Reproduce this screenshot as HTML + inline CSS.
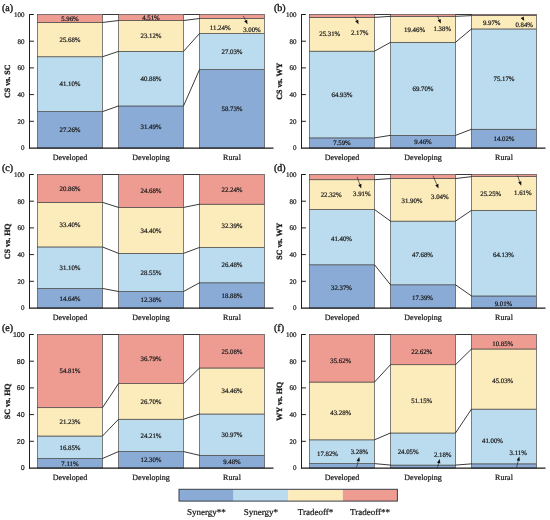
<!DOCTYPE html>
<html><head><meta charset="utf-8"><style>
html,body{margin:0;padding:0;background:#fff;}
svg{display:block;}
text{font-family:"Liberation Serif",serif;fill:#1a1a1a;stroke:#1a1a1a;stroke-width:0.22px;text-rendering:geometricPrecision;}
.pl{font-size:6.8px;text-anchor:middle;}
.tk{font-size:7px;text-anchor:end;}
.sans{font-family:"Liberation Sans",sans-serif;}
.xl{font-size:8px;text-anchor:middle;}
.pn{font-size:10px;stroke-width:0.4px;}
.yl{font-size:8px;font-weight:bold;text-anchor:middle;stroke-width:0.3px;}
.lg{font-size:9px;text-anchor:middle;}
.ax{stroke:#222;stroke-width:0.7;}
</style></head><body>
<svg width="550" height="520" viewBox="0 0 550 520">
<rect x="37.5" y="111.61" width="65" height="36.39" fill="#89abd6" stroke="#4a4a4a" stroke-width="0.7"/>
<rect x="37.5" y="56.74" width="65" height="54.87" fill="#bbdbee" stroke="#4a4a4a" stroke-width="0.7"/>
<rect x="37.5" y="22.46" width="65" height="34.28" fill="#fdecbb" stroke="#4a4a4a" stroke-width="0.7"/>
<rect x="37.5" y="14.5" width="65" height="7.96" fill="#ee9c92" stroke="#4a4a4a" stroke-width="0.7"/>
<rect x="118.5" y="105.96" width="65" height="42.04" fill="#89abd6" stroke="#4a4a4a" stroke-width="0.7"/>
<rect x="118.5" y="51.39" width="65" height="54.57" fill="#bbdbee" stroke="#4a4a4a" stroke-width="0.7"/>
<rect x="118.5" y="20.52" width="65" height="30.87" fill="#fdecbb" stroke="#4a4a4a" stroke-width="0.7"/>
<rect x="118.5" y="14.5" width="65" height="6.02" fill="#ee9c92" stroke="#4a4a4a" stroke-width="0.7"/>
<rect x="199.5" y="69.6" width="65" height="78.4" fill="#89abd6" stroke="#4a4a4a" stroke-width="0.7"/>
<rect x="199.5" y="33.51" width="65" height="36.09" fill="#bbdbee" stroke="#4a4a4a" stroke-width="0.7"/>
<rect x="199.5" y="18.51" width="65" height="15.01" fill="#fdecbb" stroke="#4a4a4a" stroke-width="0.7"/>
<rect x="199.5" y="14.5" width="65" height="4" fill="#ee9c92" stroke="#4a4a4a" stroke-width="0.7"/>
<line x1="102.5" y1="111.61" x2="118.5" y2="105.96" stroke="#222" stroke-width="0.9"/>
<line x1="102.5" y1="56.74" x2="118.5" y2="51.39" stroke="#222" stroke-width="0.9"/>
<line x1="102.5" y1="22.46" x2="118.5" y2="20.52" stroke="#222" stroke-width="0.9"/>
<line x1="102.5" y1="14.5" x2="118.5" y2="14.5" stroke="#222" stroke-width="0.9"/>
<line x1="183.5" y1="105.96" x2="199.5" y2="69.6" stroke="#222" stroke-width="0.9"/>
<line x1="183.5" y1="51.39" x2="199.5" y2="33.51" stroke="#222" stroke-width="0.9"/>
<line x1="183.5" y1="20.52" x2="199.5" y2="18.51" stroke="#222" stroke-width="0.9"/>
<line x1="183.5" y1="14.5" x2="199.5" y2="14.5" stroke="#222" stroke-width="0.9"/>
<text x="70" y="132.1" class="pl">27.26%</text>
<text x="70" y="86.47" class="pl">41.10%</text>
<text x="70" y="41.9" class="pl">25.68%</text>
<text x="70" y="20.78" class="pl">5.96%</text>
<text x="151" y="129.28" class="pl">31.49%</text>
<text x="151" y="80.97" class="pl">40.88%</text>
<text x="151" y="38.25" class="pl">23.12%</text>
<text x="151" y="19.81" class="pl">4.51%</text>
<text x="232" y="111.1" class="pl">58.73%</text>
<text x="232" y="53.85" class="pl">27.03%</text>
<text x="220.2" y="29.8" class="pl">11.24%</text>
<text x="252" y="31.8" class="pl">3.00%</text>
<line x1="29.5" y1="14.1" x2="29.5" y2="148.6" stroke="#1e1e1e" stroke-width="1"/>
<line x1="29.0" y1="148.2" x2="273.5" y2="148.2" stroke="#1a1a1a" stroke-width="1.2"/>
<text x="24.6" y="150.4" class="tk">0</text>
<line x1="29.5" y1="121.3" x2="33.9" y2="121.3" stroke="#1e1e1e" stroke-width="1"/>
<text x="24.6" y="123.7" class="tk">20</text>
<line x1="29.5" y1="94.6" x2="33.9" y2="94.6" stroke="#1e1e1e" stroke-width="1"/>
<text x="24.6" y="97" class="tk">40</text>
<line x1="29.5" y1="67.9" x2="33.9" y2="67.9" stroke="#1e1e1e" stroke-width="1"/>
<text x="24.6" y="70.3" class="tk">60</text>
<line x1="29.5" y1="41.2" x2="33.9" y2="41.2" stroke="#1e1e1e" stroke-width="1"/>
<text x="24.6" y="43.6" class="tk">80</text>
<line x1="29.5" y1="14.5" x2="33.9" y2="14.5" stroke="#1e1e1e" stroke-width="1"/>
<text x="24.6" y="16.9" class="tk">100</text>
<text x="70" y="159.6" class="xl">Developed</text>
<text x="151" y="159.6" class="xl">Developing</text>
<text x="232" y="159.6" class="xl">Rural</text>
<text x="2" y="10.8" class="pn">(a)</text>
<text transform="translate(10.2,81.3) rotate(-90)" class="yl">CS vs. SC</text>
<rect x="309.5" y="137.87" width="65" height="10.13" fill="#89abd6" stroke="#4a4a4a" stroke-width="0.7"/>
<rect x="309.5" y="51.19" width="65" height="86.68" fill="#bbdbee" stroke="#4a4a4a" stroke-width="0.7"/>
<rect x="309.5" y="17.4" width="65" height="33.79" fill="#fdecbb" stroke="#4a4a4a" stroke-width="0.7"/>
<rect x="309.5" y="14.5" width="65" height="2.9" fill="#ee9c92" stroke="#4a4a4a" stroke-width="0.7"/>
<rect x="390.5" y="135.37" width="65" height="12.63" fill="#89abd6" stroke="#4a4a4a" stroke-width="0.7"/>
<rect x="390.5" y="42.32" width="65" height="93.05" fill="#bbdbee" stroke="#4a4a4a" stroke-width="0.7"/>
<rect x="390.5" y="16.34" width="65" height="25.98" fill="#fdecbb" stroke="#4a4a4a" stroke-width="0.7"/>
<rect x="390.5" y="14.5" width="65" height="1.84" fill="#ee9c92" stroke="#4a4a4a" stroke-width="0.7"/>
<rect x="471.5" y="129.28" width="65" height="18.72" fill="#89abd6" stroke="#4a4a4a" stroke-width="0.7"/>
<rect x="471.5" y="28.93" width="65" height="100.35" fill="#bbdbee" stroke="#4a4a4a" stroke-width="0.7"/>
<rect x="471.5" y="15.62" width="65" height="13.31" fill="#fdecbb" stroke="#4a4a4a" stroke-width="0.7"/>
<rect x="471.5" y="14.5" width="65" height="1.12" fill="#ee9c92" stroke="#4a4a4a" stroke-width="0.7"/>
<line x1="374.5" y1="137.87" x2="390.5" y2="135.37" stroke="#222" stroke-width="0.9"/>
<line x1="374.5" y1="51.19" x2="390.5" y2="42.32" stroke="#222" stroke-width="0.9"/>
<line x1="374.5" y1="17.4" x2="390.5" y2="16.34" stroke="#222" stroke-width="0.9"/>
<line x1="374.5" y1="14.5" x2="390.5" y2="14.5" stroke="#222" stroke-width="0.9"/>
<line x1="455.5" y1="135.37" x2="471.5" y2="129.28" stroke="#222" stroke-width="0.9"/>
<line x1="455.5" y1="42.32" x2="471.5" y2="28.93" stroke="#222" stroke-width="0.9"/>
<line x1="455.5" y1="16.34" x2="471.5" y2="15.62" stroke="#222" stroke-width="0.9"/>
<line x1="455.5" y1="14.5" x2="471.5" y2="14.5" stroke="#222" stroke-width="0.9"/>
<text x="342" y="145.23" class="pl">7.59%</text>
<text x="342" y="96.83" class="pl">64.93%</text>
<text x="329.8" y="36.2" class="pl">25.31%</text>
<text x="359.7" y="34.5" class="pl">2.17%</text>
<text x="423" y="143.99" class="pl">9.46%</text>
<text x="423" y="91.15" class="pl">69.70%</text>
<text x="414.6" y="32.1" class="pl">19.46%</text>
<text x="442.3" y="31.4" class="pl">1.38%</text>
<text x="504" y="140.94" class="pl">14.02%</text>
<text x="504" y="81.41" class="pl">75.17%</text>
<text x="491.7" y="25.3" class="pl">9.97%</text>
<text x="524.2" y="26.9" class="pl">0.84%</text>
<line x1="301.5" y1="14.1" x2="301.5" y2="148.6" stroke="#1e1e1e" stroke-width="1"/>
<line x1="301.0" y1="148.2" x2="545.5" y2="148.2" stroke="#1a1a1a" stroke-width="1.2"/>
<text x="296.6" y="150.4" class="tk">0</text>
<line x1="301.5" y1="121.3" x2="305.9" y2="121.3" stroke="#1e1e1e" stroke-width="1"/>
<text x="296.6" y="123.7" class="tk">20</text>
<line x1="301.5" y1="94.6" x2="305.9" y2="94.6" stroke="#1e1e1e" stroke-width="1"/>
<text x="296.6" y="97" class="tk">40</text>
<line x1="301.5" y1="67.9" x2="305.9" y2="67.9" stroke="#1e1e1e" stroke-width="1"/>
<text x="296.6" y="70.3" class="tk">60</text>
<line x1="301.5" y1="41.2" x2="305.9" y2="41.2" stroke="#1e1e1e" stroke-width="1"/>
<text x="296.6" y="43.6" class="tk">80</text>
<line x1="301.5" y1="14.5" x2="305.9" y2="14.5" stroke="#1e1e1e" stroke-width="1"/>
<text x="296.6" y="16.9" class="tk">100</text>
<text x="342" y="159.6" class="xl">Developed</text>
<text x="423" y="159.6" class="xl">Developing</text>
<text x="504" y="159.6" class="xl">Rural</text>
<text x="274" y="10.8" class="pn">(b)</text>
<text transform="translate(282.2,81.3) rotate(-90)" class="yl">CS vs. WY</text>
<rect x="37.5" y="288.46" width="65" height="19.54" fill="#89abd6" stroke="#4a4a4a" stroke-width="0.7"/>
<rect x="37.5" y="246.94" width="65" height="41.52" fill="#bbdbee" stroke="#4a4a4a" stroke-width="0.7"/>
<rect x="37.5" y="202.35" width="65" height="44.59" fill="#fdecbb" stroke="#4a4a4a" stroke-width="0.7"/>
<rect x="37.5" y="174.5" width="65" height="27.85" fill="#ee9c92" stroke="#4a4a4a" stroke-width="0.7"/>
<rect x="118.5" y="291.47" width="65" height="16.53" fill="#89abd6" stroke="#4a4a4a" stroke-width="0.7"/>
<rect x="118.5" y="253.36" width="65" height="38.11" fill="#bbdbee" stroke="#4a4a4a" stroke-width="0.7"/>
<rect x="118.5" y="207.43" width="65" height="45.92" fill="#fdecbb" stroke="#4a4a4a" stroke-width="0.7"/>
<rect x="118.5" y="174.49" width="65" height="32.95" fill="#ee9c92" stroke="#4a4a4a" stroke-width="0.7"/>
<rect x="199.5" y="282.8" width="65" height="25.2" fill="#89abd6" stroke="#4a4a4a" stroke-width="0.7"/>
<rect x="199.5" y="247.44" width="65" height="35.35" fill="#bbdbee" stroke="#4a4a4a" stroke-width="0.7"/>
<rect x="199.5" y="204.2" width="65" height="43.24" fill="#fdecbb" stroke="#4a4a4a" stroke-width="0.7"/>
<rect x="199.5" y="174.51" width="65" height="29.69" fill="#ee9c92" stroke="#4a4a4a" stroke-width="0.7"/>
<line x1="102.5" y1="288.46" x2="118.5" y2="291.47" stroke="#222" stroke-width="0.9"/>
<line x1="102.5" y1="246.94" x2="118.5" y2="253.36" stroke="#222" stroke-width="0.9"/>
<line x1="102.5" y1="202.35" x2="118.5" y2="207.43" stroke="#222" stroke-width="0.9"/>
<line x1="102.5" y1="174.5" x2="118.5" y2="174.5" stroke="#222" stroke-width="0.9"/>
<line x1="183.5" y1="291.47" x2="199.5" y2="282.8" stroke="#222" stroke-width="0.9"/>
<line x1="183.5" y1="253.36" x2="199.5" y2="247.44" stroke="#222" stroke-width="0.9"/>
<line x1="183.5" y1="207.43" x2="199.5" y2="204.2" stroke="#222" stroke-width="0.9"/>
<line x1="183.5" y1="174.5" x2="199.5" y2="174.5" stroke="#222" stroke-width="0.9"/>
<text x="70" y="300.53" class="pl">14.64%</text>
<text x="70" y="270" class="pl">31.10%</text>
<text x="70" y="226.94" class="pl">33.40%</text>
<text x="70" y="190.72" class="pl">20.86%</text>
<text x="151" y="302.04" class="pl">12.38%</text>
<text x="151" y="274.72" class="pl">28.55%</text>
<text x="151" y="232.7" class="pl">34.40%</text>
<text x="151" y="193.26" class="pl">24.68%</text>
<text x="232" y="297.7" class="pl">18.88%</text>
<text x="232" y="267.42" class="pl">26.48%</text>
<text x="232" y="228.12" class="pl">32.39%</text>
<text x="232" y="191.66" class="pl">22.24%</text>
<line x1="29.5" y1="174.1" x2="29.5" y2="308.6" stroke="#1e1e1e" stroke-width="1"/>
<line x1="29.0" y1="308.2" x2="273.5" y2="308.2" stroke="#1a1a1a" stroke-width="1.2"/>
<text x="24.6" y="310.4" class="tk">0</text>
<line x1="29.5" y1="281.3" x2="33.9" y2="281.3" stroke="#1e1e1e" stroke-width="1"/>
<text x="24.6" y="283.7" class="tk">20</text>
<line x1="29.5" y1="254.6" x2="33.9" y2="254.6" stroke="#1e1e1e" stroke-width="1"/>
<text x="24.6" y="257" class="tk">40</text>
<line x1="29.5" y1="227.9" x2="33.9" y2="227.9" stroke="#1e1e1e" stroke-width="1"/>
<text x="24.6" y="230.3" class="tk">60</text>
<line x1="29.5" y1="201.2" x2="33.9" y2="201.2" stroke="#1e1e1e" stroke-width="1"/>
<text x="24.6" y="203.6" class="tk">80</text>
<line x1="29.5" y1="174.5" x2="33.9" y2="174.5" stroke="#1e1e1e" stroke-width="1"/>
<text x="24.6" y="176.9" class="tk">100</text>
<text x="70" y="319.6" class="xl">Developed</text>
<text x="151" y="319.6" class="xl">Developing</text>
<text x="232" y="319.6" class="xl">Rural</text>
<text x="2" y="170.8" class="pn">(c)</text>
<text transform="translate(10.2,241.3) rotate(-90)" class="yl">CS vs. HQ</text>
<rect x="309.5" y="264.79" width="65" height="43.21" fill="#89abd6" stroke="#4a4a4a" stroke-width="0.7"/>
<rect x="309.5" y="209.52" width="65" height="55.27" fill="#bbdbee" stroke="#4a4a4a" stroke-width="0.7"/>
<rect x="309.5" y="179.72" width="65" height="29.8" fill="#fdecbb" stroke="#4a4a4a" stroke-width="0.7"/>
<rect x="309.5" y="174.5" width="65" height="5.22" fill="#ee9c92" stroke="#4a4a4a" stroke-width="0.7"/>
<rect x="390.5" y="284.78" width="65" height="23.22" fill="#89abd6" stroke="#4a4a4a" stroke-width="0.7"/>
<rect x="390.5" y="221.13" width="65" height="63.65" fill="#bbdbee" stroke="#4a4a4a" stroke-width="0.7"/>
<rect x="390.5" y="178.55" width="65" height="42.59" fill="#fdecbb" stroke="#4a4a4a" stroke-width="0.7"/>
<rect x="390.5" y="174.49" width="65" height="4.06" fill="#ee9c92" stroke="#4a4a4a" stroke-width="0.7"/>
<rect x="471.5" y="295.97" width="65" height="12.03" fill="#89abd6" stroke="#4a4a4a" stroke-width="0.7"/>
<rect x="471.5" y="210.36" width="65" height="85.61" fill="#bbdbee" stroke="#4a4a4a" stroke-width="0.7"/>
<rect x="471.5" y="176.65" width="65" height="33.71" fill="#fdecbb" stroke="#4a4a4a" stroke-width="0.7"/>
<rect x="471.5" y="174.5" width="65" height="2.15" fill="#ee9c92" stroke="#4a4a4a" stroke-width="0.7"/>
<line x1="374.5" y1="264.79" x2="390.5" y2="284.78" stroke="#222" stroke-width="0.9"/>
<line x1="374.5" y1="209.52" x2="390.5" y2="221.13" stroke="#222" stroke-width="0.9"/>
<line x1="374.5" y1="179.72" x2="390.5" y2="178.55" stroke="#222" stroke-width="0.9"/>
<line x1="374.5" y1="174.5" x2="390.5" y2="174.5" stroke="#222" stroke-width="0.9"/>
<line x1="455.5" y1="284.78" x2="471.5" y2="295.97" stroke="#222" stroke-width="0.9"/>
<line x1="455.5" y1="221.13" x2="471.5" y2="210.36" stroke="#222" stroke-width="0.9"/>
<line x1="455.5" y1="178.55" x2="471.5" y2="176.65" stroke="#222" stroke-width="0.9"/>
<line x1="455.5" y1="174.5" x2="471.5" y2="174.5" stroke="#222" stroke-width="0.9"/>
<text x="341.5" y="289.99" class="pl">32.37%</text>
<text x="341.5" y="240.75" class="pl">41.40%</text>
<text x="331.2" y="196.9" class="pl">22.32%</text>
<text x="361.9" y="195.9" class="pl">3.91%</text>
<text x="422.5" y="299.99" class="pl">17.39%</text>
<text x="422.5" y="256.56" class="pl">47.68%</text>
<text x="412" y="202.5" class="pl">31.90%</text>
<text x="439.9" y="198.6" class="pl">3.04%</text>
<text x="503.5" y="305.59" class="pl">9.01%</text>
<text x="503.5" y="256.76" class="pl">64.13%</text>
<text x="490.8" y="195.8" class="pl">25.25%</text>
<text x="522.9" y="194.8" class="pl">1.61%</text>
<line x1="301.5" y1="174.1" x2="301.5" y2="308.6" stroke="#1e1e1e" stroke-width="1"/>
<line x1="301.0" y1="308.2" x2="545.5" y2="308.2" stroke="#1a1a1a" stroke-width="1.2"/>
<text x="296.6" y="310.4" class="tk">0</text>
<line x1="301.5" y1="281.3" x2="305.9" y2="281.3" stroke="#1e1e1e" stroke-width="1"/>
<text x="296.6" y="283.7" class="tk">20</text>
<line x1="301.5" y1="254.6" x2="305.9" y2="254.6" stroke="#1e1e1e" stroke-width="1"/>
<text x="296.6" y="257" class="tk">40</text>
<line x1="301.5" y1="227.9" x2="305.9" y2="227.9" stroke="#1e1e1e" stroke-width="1"/>
<text x="296.6" y="230.3" class="tk">60</text>
<line x1="301.5" y1="201.2" x2="305.9" y2="201.2" stroke="#1e1e1e" stroke-width="1"/>
<text x="296.6" y="203.6" class="tk">80</text>
<line x1="301.5" y1="174.5" x2="305.9" y2="174.5" stroke="#1e1e1e" stroke-width="1"/>
<text x="296.6" y="176.9" class="tk">100</text>
<text x="342" y="319.6" class="xl">Developed</text>
<text x="423" y="319.6" class="xl">Developing</text>
<text x="504" y="319.6" class="xl">Rural</text>
<text x="274" y="170.8" class="pn">(d)</text>
<text transform="translate(282.2,241.3) rotate(-90)" class="yl">SC vs. WY</text>
<rect x="37.5" y="458.51" width="65" height="9.49" fill="#89abd6" stroke="#4a4a4a" stroke-width="0.7"/>
<rect x="37.5" y="436.01" width="65" height="22.49" fill="#bbdbee" stroke="#4a4a4a" stroke-width="0.7"/>
<rect x="37.5" y="407.67" width="65" height="28.34" fill="#fdecbb" stroke="#4a4a4a" stroke-width="0.7"/>
<rect x="37.5" y="334.5" width="65" height="73.17" fill="#ee9c92" stroke="#4a4a4a" stroke-width="0.7"/>
<rect x="118.5" y="451.58" width="65" height="16.42" fill="#89abd6" stroke="#4a4a4a" stroke-width="0.7"/>
<rect x="118.5" y="419.26" width="65" height="32.32" fill="#bbdbee" stroke="#4a4a4a" stroke-width="0.7"/>
<rect x="118.5" y="383.61" width="65" height="35.64" fill="#fdecbb" stroke="#4a4a4a" stroke-width="0.7"/>
<rect x="118.5" y="334.5" width="65" height="49.11" fill="#ee9c92" stroke="#4a4a4a" stroke-width="0.7"/>
<rect x="199.5" y="455.34" width="65" height="12.66" fill="#89abd6" stroke="#4a4a4a" stroke-width="0.7"/>
<rect x="199.5" y="414" width="65" height="41.34" fill="#bbdbee" stroke="#4a4a4a" stroke-width="0.7"/>
<rect x="199.5" y="368" width="65" height="46" fill="#fdecbb" stroke="#4a4a4a" stroke-width="0.7"/>
<rect x="199.5" y="334.51" width="65" height="33.48" fill="#ee9c92" stroke="#4a4a4a" stroke-width="0.7"/>
<line x1="102.5" y1="458.51" x2="118.5" y2="451.58" stroke="#222" stroke-width="0.9"/>
<line x1="102.5" y1="436.01" x2="118.5" y2="419.26" stroke="#222" stroke-width="0.9"/>
<line x1="102.5" y1="407.67" x2="118.5" y2="383.61" stroke="#222" stroke-width="0.9"/>
<line x1="102.5" y1="334.5" x2="118.5" y2="334.5" stroke="#222" stroke-width="0.9"/>
<line x1="183.5" y1="451.58" x2="199.5" y2="455.34" stroke="#222" stroke-width="0.9"/>
<line x1="183.5" y1="419.26" x2="199.5" y2="414" stroke="#222" stroke-width="0.9"/>
<line x1="183.5" y1="383.61" x2="199.5" y2="368" stroke="#222" stroke-width="0.9"/>
<line x1="183.5" y1="334.5" x2="199.5" y2="334.5" stroke="#222" stroke-width="0.9"/>
<text x="70" y="465.55" class="pl">7.11%</text>
<text x="70" y="449.56" class="pl">16.85%</text>
<text x="70" y="424.14" class="pl">21.23%</text>
<text x="70" y="373.39" class="pl">54.81%</text>
<text x="151" y="462.09" class="pl">12.30%</text>
<text x="151" y="437.72" class="pl">24.21%</text>
<text x="151" y="403.74" class="pl">26.70%</text>
<text x="151" y="361.36" class="pl">36.79%</text>
<text x="232" y="463.97" class="pl">9.48%</text>
<text x="232" y="436.97" class="pl">30.97%</text>
<text x="232" y="393.3" class="pl">34.46%</text>
<text x="232" y="353.55" class="pl">25.08%</text>
<line x1="29.5" y1="334.1" x2="29.5" y2="468.6" stroke="#1e1e1e" stroke-width="1"/>
<line x1="29.0" y1="468.2" x2="273.5" y2="468.2" stroke="#1a1a1a" stroke-width="1.2"/>
<text x="24.6" y="470.4" class="tk sans">0</text>
<line x1="29.5" y1="441.3" x2="33.9" y2="441.3" stroke="#1e1e1e" stroke-width="1"/>
<text x="24.6" y="443.7" class="tk sans">20</text>
<line x1="29.5" y1="414.6" x2="33.9" y2="414.6" stroke="#1e1e1e" stroke-width="1"/>
<text x="24.6" y="417" class="tk sans">40</text>
<line x1="29.5" y1="387.9" x2="33.9" y2="387.9" stroke="#1e1e1e" stroke-width="1"/>
<text x="24.6" y="390.3" class="tk sans">60</text>
<line x1="29.5" y1="361.2" x2="33.9" y2="361.2" stroke="#1e1e1e" stroke-width="1"/>
<text x="24.6" y="363.6" class="tk sans">80</text>
<line x1="29.5" y1="334.5" x2="33.9" y2="334.5" stroke="#1e1e1e" stroke-width="1"/>
<text x="24.6" y="336.9" class="tk sans">100</text>
<text x="70" y="479.6" class="xl">Developed</text>
<text x="151" y="479.6" class="xl">Developing</text>
<text x="232" y="479.6" class="xl">Rural</text>
<text x="2" y="330.8" class="pn">(e)</text>
<text transform="translate(10.2,401.3) rotate(-90)" class="yl">SC vs. HQ</text>
<rect x="309.5" y="463.62" width="65" height="4.38" fill="#89abd6" stroke="#4a4a4a" stroke-width="0.7"/>
<rect x="309.5" y="439.83" width="65" height="23.79" fill="#bbdbee" stroke="#4a4a4a" stroke-width="0.7"/>
<rect x="309.5" y="382.05" width="65" height="57.78" fill="#fdecbb" stroke="#4a4a4a" stroke-width="0.7"/>
<rect x="309.5" y="334.5" width="65" height="47.55" fill="#ee9c92" stroke="#4a4a4a" stroke-width="0.7"/>
<rect x="390.5" y="465.09" width="65" height="2.91" fill="#89abd6" stroke="#4a4a4a" stroke-width="0.7"/>
<rect x="390.5" y="432.98" width="65" height="32.11" fill="#bbdbee" stroke="#4a4a4a" stroke-width="0.7"/>
<rect x="390.5" y="364.7" width="65" height="68.29" fill="#fdecbb" stroke="#4a4a4a" stroke-width="0.7"/>
<rect x="390.5" y="334.5" width="65" height="30.2" fill="#ee9c92" stroke="#4a4a4a" stroke-width="0.7"/>
<rect x="471.5" y="463.85" width="65" height="4.15" fill="#89abd6" stroke="#4a4a4a" stroke-width="0.7"/>
<rect x="471.5" y="409.11" width="65" height="54.73" fill="#bbdbee" stroke="#4a4a4a" stroke-width="0.7"/>
<rect x="471.5" y="349" width="65" height="60.12" fill="#fdecbb" stroke="#4a4a4a" stroke-width="0.7"/>
<rect x="471.5" y="334.51" width="65" height="14.48" fill="#ee9c92" stroke="#4a4a4a" stroke-width="0.7"/>
<line x1="374.5" y1="463.62" x2="390.5" y2="465.09" stroke="#222" stroke-width="0.9"/>
<line x1="374.5" y1="439.83" x2="390.5" y2="432.98" stroke="#222" stroke-width="0.9"/>
<line x1="374.5" y1="382.05" x2="390.5" y2="364.7" stroke="#222" stroke-width="0.9"/>
<line x1="374.5" y1="334.5" x2="390.5" y2="334.5" stroke="#222" stroke-width="0.9"/>
<line x1="455.5" y1="465.09" x2="471.5" y2="463.85" stroke="#222" stroke-width="0.9"/>
<line x1="455.5" y1="432.98" x2="471.5" y2="409.11" stroke="#222" stroke-width="0.9"/>
<line x1="455.5" y1="364.7" x2="471.5" y2="349" stroke="#222" stroke-width="0.9"/>
<line x1="455.5" y1="334.5" x2="471.5" y2="334.5" stroke="#222" stroke-width="0.9"/>
<text x="359.5" y="453.9" class="pl">3.28%</text>
<text x="327.5" y="455.9" class="pl">17.82%</text>
<text x="340.8" y="415.24" class="pl">43.28%</text>
<text x="340.8" y="362.58" class="pl">35.62%</text>
<text x="442.7" y="456.6" class="pl">2.18%</text>
<text x="408.2" y="453.9" class="pl">24.05%</text>
<text x="421.8" y="403.14" class="pl">51.15%</text>
<text x="421.8" y="353.9" class="pl">22.62%</text>
<text x="518.2" y="454.6" class="pl">3.11%</text>
<text x="492.5" y="442.8" class="pl">41.00%</text>
<text x="502.8" y="383.36" class="pl">45.03%</text>
<text x="502.8" y="346.06" class="pl">10.85%</text>
<line x1="301.5" y1="334.1" x2="301.5" y2="468.6" stroke="#1e1e1e" stroke-width="1"/>
<line x1="301.0" y1="468.2" x2="545.5" y2="468.2" stroke="#1a1a1a" stroke-width="1.2"/>
<text x="296.6" y="470.4" class="tk">0</text>
<line x1="301.5" y1="441.3" x2="305.9" y2="441.3" stroke="#1e1e1e" stroke-width="1"/>
<text x="296.6" y="443.7" class="tk">20</text>
<line x1="301.5" y1="414.6" x2="305.9" y2="414.6" stroke="#1e1e1e" stroke-width="1"/>
<text x="296.6" y="417" class="tk">40</text>
<line x1="301.5" y1="387.9" x2="305.9" y2="387.9" stroke="#1e1e1e" stroke-width="1"/>
<text x="296.6" y="390.3" class="tk">60</text>
<line x1="301.5" y1="361.2" x2="305.9" y2="361.2" stroke="#1e1e1e" stroke-width="1"/>
<text x="296.6" y="363.6" class="tk">80</text>
<line x1="301.5" y1="334.5" x2="305.9" y2="334.5" stroke="#1e1e1e" stroke-width="1"/>
<text x="296.6" y="336.9" class="tk">100</text>
<text x="342" y="479.6" class="xl">Developed</text>
<text x="423" y="479.6" class="xl">Developing</text>
<text x="504" y="479.6" class="xl">Rural</text>
<text x="274" y="330.8" class="pn">(f)</text>
<text transform="translate(282.2,401.3) rotate(-90)" class="yl">WY vs. HQ</text>
<line x1="243.4" y1="16.1" x2="245.62" y2="20.54" stroke="#222" stroke-width="0.65"/>
<polygon points="247.5,24.3 244.1,21.3 247.14,19.78" fill="#111"/>
<line x1="354.8" y1="16.5" x2="356.7" y2="20.51" stroke="#222" stroke-width="0.65"/>
<polygon points="358.5,24.3 355.16,21.23 358.24,19.78" fill="#111"/>
<line x1="437.5" y1="16.1" x2="439.17" y2="19.77" stroke="#222" stroke-width="0.65"/>
<polygon points="440.9,23.6 437.62,20.48 440.71,19.07" fill="#111"/>
<line x1="522.3" y1="17.5" x2="522.17" y2="17.28" stroke="#222" stroke-width="0.65"/>
<polygon points="524.3,20.9 520.71,18.14 523.64,16.42" fill="#111"/>
<line x1="357.1" y1="176.8" x2="359.8" y2="184.44" stroke="#222" stroke-width="0.65"/>
<polygon points="361.2,188.4 358.2,185.01 361.4,183.87" fill="#111"/>
<line x1="433" y1="175.7" x2="436.83" y2="184.55" stroke="#222" stroke-width="0.65"/>
<polygon points="438.5,188.4 435.27,185.22 438.39,183.87" fill="#111"/>
<line x1="517.5" y1="175.7" x2="519.74" y2="181.76" stroke="#222" stroke-width="0.65"/>
<polygon points="521.2,185.7 518.15,182.35 521.34,181.17" fill="#111"/>
<line x1="356.6" y1="467.3" x2="358.24" y2="461.06" stroke="#222" stroke-width="0.65"/>
<polygon points="359.3,457 359.88,461.49 356.59,460.63" fill="#111"/>
<line x1="437.5" y1="467.3" x2="438.67" y2="463.14" stroke="#222" stroke-width="0.65"/>
<polygon points="439.8,459.1 440.3,463.6 437.03,462.68" fill="#111"/>
<line x1="516.6" y1="467.3" x2="518.27" y2="460.67" stroke="#222" stroke-width="0.65"/>
<polygon points="519.3,456.6 519.92,461.09 516.62,460.26" fill="#111"/>
<rect x="179" y="489.3" width="54.6" height="11.8" fill="#89abd6"/>
<rect x="233.6" y="489.3" width="54.6" height="11.8" fill="#bbdbee"/>
<rect x="288.2" y="489.3" width="54.6" height="11.8" fill="#fdecbb"/>
<rect x="342.8" y="489.3" width="54.6" height="11.8" fill="#ee9c92"/>
<rect x="179" y="489.3" width="218.4" height="11.8" fill="none" stroke="#3a3f48" stroke-width="1"/>
<text x="206.3" y="515.3" class="lg">Synergy**</text>
<text x="260.9" y="515.3" class="lg">Synergy*</text>
<text x="315.5" y="515.3" class="lg">Tradeoff*</text>
<text x="370.1" y="515.3" class="lg">Tradeoff**</text>
</svg>
</body></html>
